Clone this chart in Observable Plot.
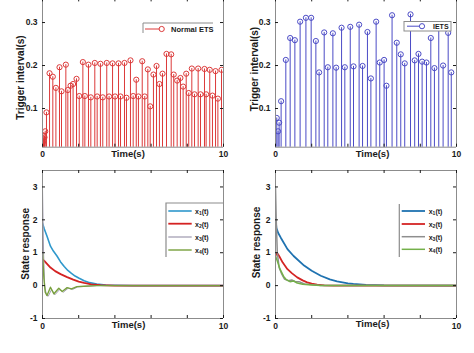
<!DOCTYPE html>
<html><head><meta charset="utf-8">
<script src="https://cdn.jsdelivr.net/npm/d3@7"></script>
<script src="https://cdn.jsdelivr.net/npm/@observablehq/plot@0.6"></script>
<style>
body{margin:0;background:#fff;}
#fig{position:relative;width:474px;height:353px;overflow:hidden;background:#fff;font-family:"Liberation Sans",Arial,sans-serif;}
.panel{position:absolute;}
</style></head><body><div id="fig"></div>
<script>
// ---------- data ----------
const timeDomain = [0, 10];
const timeTicks = [0, 2, 4, 6, 8, 10];
const timeLabelTicks = [0, 10];
const timeLabel = "Time(s)";

const triggerDomain = [0.01, 0.355];
const triggerTicks = [0.1, 0.2, 0.3];
const triggerLabel = "Trigger interval(s)";

const stateDomain = [-1, 3.5];
const stateTicks = [-1, 0, 1, 2, 3];
const stateLabel = "State response";

// Normal ETS: trigger instants and intervals
const etsTime = [0.01,0.03,0.05,0.08,0.11,0.15,0.22,0.39,0.57,0.74,0.94,1.05,1.29,1.40,1.55,1.69,1.88,2.03,2.23,2.34,2.54,2.67,2.89,3.02,3.20,3.33,3.55,3.68,3.87,4.01,4.20,4.31,4.53,4.64,4.86,5.01,5.18,5.30,5.51,5.65,5.82,5.95,6.13,6.30,6.46,6.63,6.85,7.11,7.25,7.44,7.62,7.77,7.94,8.08,8.25,8.40,8.60,8.73,8.95,9.04,9.24,9.39,9.56,9.69,9.89];
const etsInterval = [0.020,0.030,0.025,0.037,0.033,0.047,0.091,0.182,0.174,0.148,0.196,0.140,0.202,0.143,0.153,0.157,0.169,0.129,0.208,0.129,0.202,0.126,0.206,0.128,0.204,0.126,0.206,0.128,0.205,0.128,0.205,0.128,0.206,0.125,0.212,0.129,0.167,0.128,0.210,0.128,0.191,0.105,0.179,0.199,0.157,0.181,0.227,0.226,0.179,0.165,0.171,0.151,0.181,0.136,0.193,0.133,0.193,0.133,0.192,0.133,0.190,0.130,0.187,0.123,0.190];

// IETS
const ietsTime = [0.07,0.14,0.20,0.31,0.57,0.81,1.07,1.36,1.68,1.97,2.23,2.41,2.69,2.89,3.17,3.35,3.65,3.83,4.13,4.31,4.62,4.81,5.08,5.27,5.56,5.76,6.00,6.13,6.44,6.70,6.92,7.14,7.46,7.69,7.90,8.10,8.34,8.58,8.78,9.02,9.26,9.54,9.71];
const ietsInterval = [0.078,0.047,0.067,0.117,0.213,0.264,0.259,0.302,0.311,0.311,0.257,0.184,0.277,0.196,0.275,0.195,0.288,0.196,0.290,0.198,0.295,0.199,0.278,0.170,0.302,0.207,0.213,0.153,0.317,0.253,0.226,0.205,0.319,0.212,0.227,0.209,0.207,0.264,0.194,0.290,0.200,0.276,0.184];

// State responses under normal ETS
const ets_x1_t = [0,0.1,0.25,0.44,0.6,0.8,1.0,1.2,1.4,1.6,1.8,2.0,2.3,2.6,3.0,3.5,4.0,5.0,10];
const ets_x1_v = [1.9,1.72,1.5,1.2,1.05,0.9,0.72,0.58,0.46,0.37,0.29,0.23,0.15,0.09,0.05,0.02,0.01,0,0];
const ets_x2_t = [0,0.1,0.25,0.44,0.7,1.0,1.36,1.7,2.0,2.3,2.7,3.2,4.0,10];
const ets_x2_v = [0.8,0.75,0.66,0.55,0.44,0.35,0.26,0.18,0.12,0.08,0.04,0.015,0,0];
const ets_x3_t = [0,0.06,0.12,0.22,0.32,0.5,0.68,0.95,1.15,1.42,1.65,1.95,2.4,3.0,10];
const ets_x3_v = [3.0,1.0,0.0,-0.3,-0.32,-0.12,-0.28,-0.12,-0.2,-0.08,-0.12,-0.04,-0.02,0,0];
const ets_x4_t = [0,0.08,0.15,0.25,0.44,0.63,0.9,1.09,1.36,1.6,1.9,2.3,3.0,10];
const ets_x4_v = [1.0,0.2,-0.2,-0.3,-0.05,-0.25,-0.08,-0.18,-0.06,-0.1,-0.03,-0.02,0,0];

// State responses under IETS
const iets_x1_t = [0,0.05,0.15,0.3,0.66,1.0,1.58,2.0,2.5,3.0,3.4,4.0,4.3,5.0,6.0,10];
const iets_x1_v = [2.05,1.75,1.6,1.45,1.11,0.9,0.61,0.45,0.3,0.19,0.13,0.07,0.05,0.02,0.005,0];
const iets_x2_t = [0,0.08,0.2,0.4,0.66,0.9,1.2,1.5,1.75,2.0,2.3,2.7,3.2,10];
const iets_x2_v = [0.9,1.0,0.9,0.7,0.5,0.38,0.25,0.16,0.1,0.06,0.03,0.01,0,0];
const iets_x3_t = [0,0.04,0.1,0.2,0.35,0.5,0.7,0.9,1.1,1.3,1.6,2.0,2.5,10];
const iets_x3_v = [3.0,2.0,1.0,0.55,0.35,0.2,0.15,0.17,0.12,0.12,0.05,0.03,0,0];
const iets_x4_t = [0,0.1,0.25,0.45,0.6,0.8,1.0,1.2,1.5,2.0,2.5,10];
const iets_x4_v = [0.9,0.75,0.5,0.28,0.18,0.12,0.14,0.08,0.04,0.02,0,0];

const stateNames = ["1","2","3","4"];

// ---------- helpers ----------
const zip = (ts, vs) => ts.map((t, i) => ({t, v: vs[i]}));
const axisGray = "#8c8c8c";
const ink = "#1a1a1a";
const fontFam = "'Liberation Sans', Arial, sans-serif";
const fig = document.getElementById("fig");

function panel(cfg) {
  const {left, top, width, height, mL, mR, mT, mB, yDomain, yTicks, yFmt, dataMarks, ylabel, ylDx, ylDy, tDx, tDy} = cfg;
  const fw = width - mL - mR, fh = height - mT - mB;
  const svg = Plot.plot({
    width, height, marginLeft: mL, marginRight: mR, marginTop: mT, marginBottom: mB,
    style: {background: "transparent", fontFamily: fontFam, fontSize: "8.5px", fontWeight: "bold", color: ink, overflow: "visible"},
    x: {domain: timeDomain, ticks: timeLabelTicks, tickFormat: d => String(d), tickSize: 0, tickPadding: 4, label: null},
    y: {domain: yDomain, ticks: yTicks, tickFormat: yFmt, tickSize: 0, tickPadding: 5, label: null},
    marks: [
      ...dataMarks,
      Plot.ruleX(timeDomain, {stroke: axisGray, strokeWidth: 1}),
      Plot.ruleY([yDomain[0]], {stroke: axisGray, strokeWidth: 1}),
      Plot.ruleY([yDomain[1]], {stroke: axisGray, strokeWidth: 1}),
      Plot.tickX(timeTicks, {x: d => d, stroke: ink, insetTop: fh - 3}),
      Plot.tickX(timeTicks, {x: d => d, stroke: ink, insetBottom: fh - 3}),
      Plot.tickY(yTicks, {y: d => d, stroke: ink, insetRight: fw - 3}),
      Plot.tickY(yTicks, {y: d => d, stroke: ink, insetLeft: fw - 3}),
      Plot.text([timeLabel], {text: d => d, frameAnchor: "bottom", textAnchor: "middle", dx: tDx, dy: tDy, fontSize: 9.5, fontWeight: "bold", fill: ink}),
      Plot.text([ylabel], {text: d => d, frameAnchor: "left", textAnchor: "middle", rotate: -90, dx: ylDx, dy: ylDy, fontSize: 10, fontWeight: "bold", fill: ink})
    ]
  });
  const wrap = document.createElement("div");
  wrap.className = "panel";
  wrap.style.left = left + "px";
  wrap.style.top = top + "px";
  wrap.appendChild(svg);
  fig.appendChild(wrap);
  return d3.select(svg);
}

function stemMarks(data, color) {
  return [
    Plot.ruleX(data, {x: "t", y1: () => 0, y2: "v", stroke: color, strokeWidth: 1, clip: true}),
    Plot.dot(data, {x: "t", y: "v", r: 2.6, stroke: color, strokeWidth: 1, fill: "none", clip: true})
  ];
}

function lineMarks(series) {
  return series.map(s => Plot.line(zip(s.t, s.v), {x: "t", y: "v", stroke: s.color, strokeWidth: s.w, clip: true}));
}

function stemLegend(sel, box, borders, color, label, lineY, x1, x2, tx, fs) {
  const g = sel.append("g");
  if (borders === "full") {
    g.append("rect").attr("x", box[0]).attr("y", box[1]).attr("width", box[2]-box[0]).attr("height", box[3]-box[1])
      .attr("fill", "#fff").attr("stroke", axisGray).attr("stroke-width", 1);
  } else {
    g.append("path").attr("d", `M${box[0]},${box[3]}V${box[1]}H${box[2]}`).attr("fill", "none").attr("stroke", axisGray);
  }
  g.append("line").attr("x1", x1).attr("x2", x2).attr("y1", lineY).attr("y2", lineY).attr("stroke", color).attr("stroke-width", 1);
  g.append("circle").attr("cx", x2).attr("cy", lineY).attr("r", 2.6).attr("fill", "#fff").attr("stroke", color);
  g.append("text").attr("x", tx).attr("y", lineY).attr("dominant-baseline", "central").attr("text-anchor", "start")
    .attr("font-family", fontFam).attr("font-weight", "bold").attr("font-size", fs).attr("fill", ink).text(label);
}

function stateLegend(sel, path, series, ys, x1, x2, tx) {
  const g = sel.append("g");
  g.append("path").attr("d", path).attr("fill", "none").attr("stroke", axisGray).attr("stroke-width", 1.2);
  series.forEach((s, i) => {
    g.append("line").attr("x1", x1).attr("x2", x2).attr("y1", ys[i]).attr("y2", ys[i]).attr("stroke", s.color).attr("stroke-width", Math.max(1.3, s.w));
    const t = g.append("text").attr("x", tx).attr("y", ys[i]).attr("dominant-baseline", "central").attr("text-anchor", "start")
      .attr("font-family", fontFam).attr("font-weight", "bold").attr("font-size", 7).attr("fill", ink);
    t.append("tspan").text("x");
    t.append("tspan").attr("font-size", 5).attr("dy", 2).text(stateNames[i]);
    t.append("tspan").attr("dy", -2).text("(t)");
  });
}

// ---------- panels ----------
const etsColor = "#dc3a3a";
const ietsColor = "#4b4bc6";
const etsSeries = [
  {t: ets_x1_t, v: ets_x1_v, color: "#2f98cc", w: 1.6},
  {t: ets_x2_t, v: ets_x2_v, color: "#d42222", w: 1.8},
  {t: ets_x3_t, v: ets_x3_v, color: "#a49fb4", w: 1},
  {t: ets_x4_t, v: ets_x4_v, color: "#78a03c", w: 1.4}
];
const ietsSeries = [
  {t: iets_x1_t, v: iets_x1_v, color: "#1f72b0", w: 1.8},
  {t: iets_x2_t, v: iets_x2_v, color: "#d42424", w: 1.8},
  {t: iets_x3_t, v: iets_x3_v, color: "#8e8e8e", w: 1.5},
  {t: iets_x4_t, v: iets_x4_v, color: "#74b04a", w: 1.5}
];
const fmt1 = d => d.toFixed(1);
const fmtInt = d => String(d);

// top-left
const tl = panel({left: 0, top: -3, width: 237, height: 180, mL: 42, mR: 14, mT: 1.4, mB: 30.3,
  yDomain: triggerDomain, yTicks: triggerTicks, yFmt: fmt1, dataMarks: stemMarks(zip(etsTime, etsInterval), etsColor),
  ylabel: triggerLabel, ylDx: -22, ylDy: 4.5, tDx: -5, tDy: 9.5});
stemLegend(tl, [143, 26, 213, 36], "open", etsColor, "Normal ETS", 32, 145, 161.7, 171, 7.5);

// top-right
const tr = panel({left: 237, top: -3, width: 237, height: 180, mL: 38, mR: 18, mT: 1.4, mB: 30.3,
  yDomain: triggerDomain, yTicks: triggerTicks, yFmt: fmt1, dataMarks: stemMarks(zip(ietsTime, ietsInterval), ietsColor),
  ylabel: triggerLabel, ylDx: -21, ylDy: -4, tDx: 6.5, tDy: 9.5});
stemLegend(tr, [167, 24.5, 214, 34], "full", ietsColor, "IETS", 29.2, 170, 185, 196, 7);

// bottom-left
const bl = panel({left: 0, top: 160, width: 237, height: 193, mL: 42, mR: 14, mT: 10, mB: 35,
  yDomain: stateDomain, yTicks: stateTicks, yFmt: fmtInt, dataMarks: lineMarks(etsSeries),
  ylabel: stateLabel, ylDx: -17, ylDy: -0.7, tDx: -4.5, tDy: 9});
stateLegend(bl, "M166,97V43H223", etsSeries, [51, 63.7, 77, 90], 168.3, 191.7, 195);

// bottom-right
const br = panel({left: 237, top: 160, width: 237, height: 193, mL: 38, mR: 18, mT: 10, mB: 35,
  yDomain: stateDomain, yTicks: stateTicks, yFmt: fmtInt, dataMarks: lineMarks(ietsSeries),
  ylabel: stateLabel, ylDx: -19, ylDy: -2, tDx: 6.5, tDy: 8.7});
stateLegend(br, "M162.3,44V97", ietsSeries, [51, 64, 76.7, 89.3], 164.7, 188, 191.7);
</script>
</body></html>
